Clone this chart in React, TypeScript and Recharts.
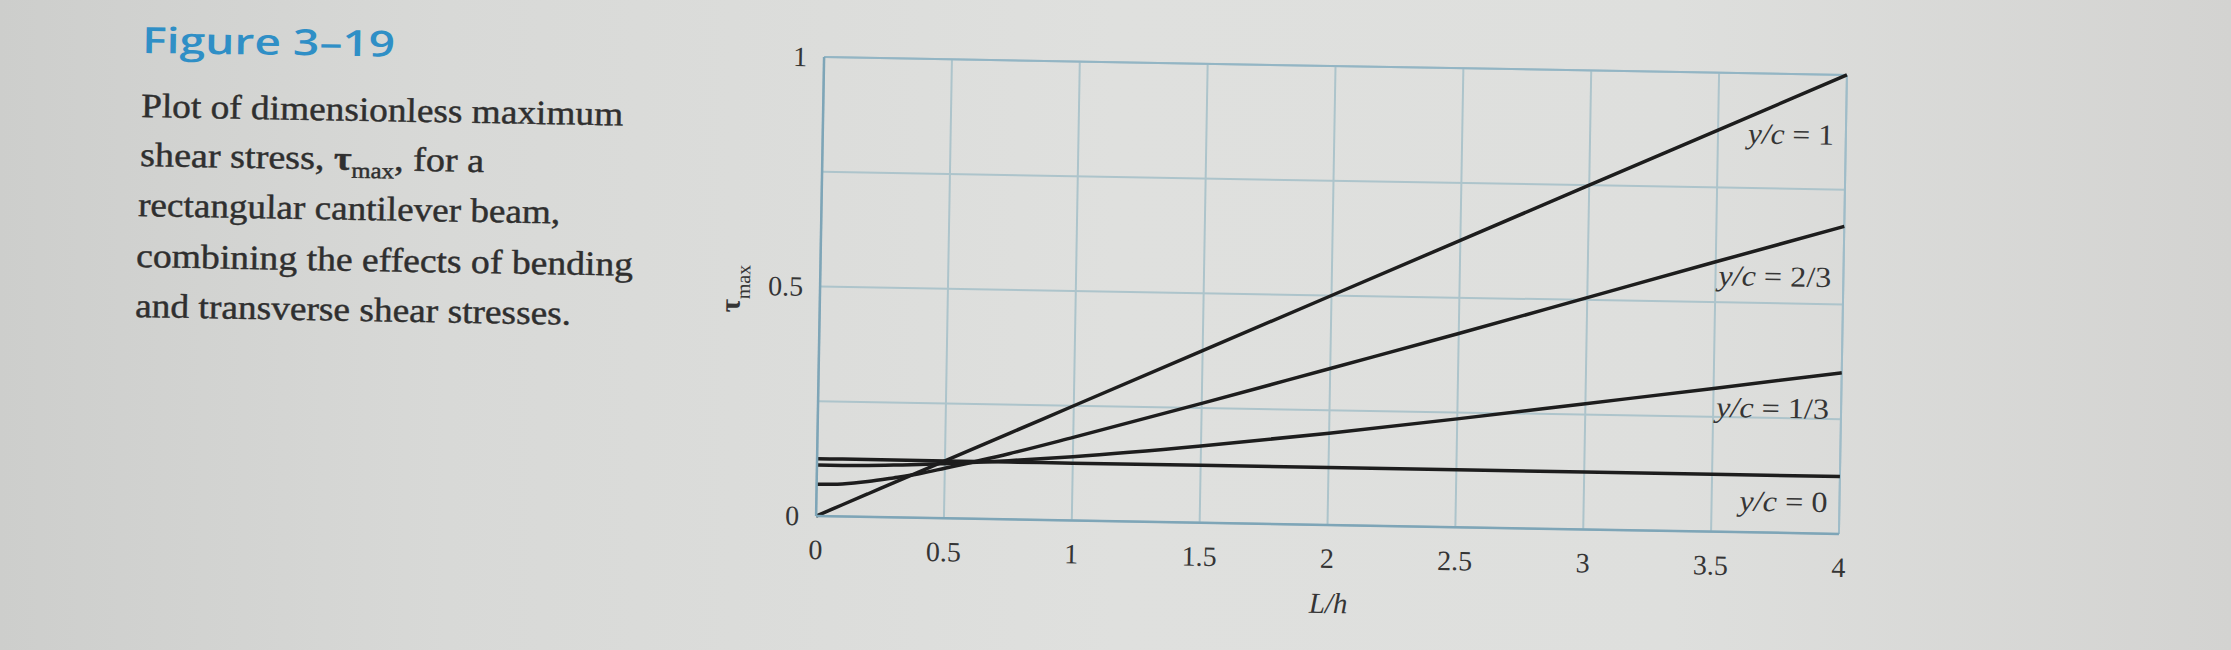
import React from 'react';
import { LineChart, Line, XAxis, YAxis, CartesianGrid, ReferenceDot, ReferenceLine } from 'recharts';

// ---- data ----
const lOverH = [0, 0.1, 0.2, 0.3, 0.4, 0.5, 0.75, 1, 1.5, 2, 2.5, 3, 3.5, 4];
const ycOne = [0, 0.025, 0.05, 0.075, 0.1, 0.125, 0.1875, 0.25, 0.375, 0.5, 0.625, 0.75, 0.875, 1.0];
const ycTwoThirds = [0.069, 0.071, 0.077, 0.086, 0.096, 0.109, 0.143, 0.181, 0.26, 0.341, 0.422, 0.505, 0.588, 0.67];
const ycOneThird = [0.111, 0.111, 0.112, 0.114, 0.116, 0.119, 0.128, 0.139, 0.167, 0.2, 0.236, 0.274, 0.312, 0.351];
const ycZero = [0.125, 0.125, 0.125, 0.125, 0.125, 0.125, 0.125, 0.125, 0.125, 0.125, 0.125, 0.125, 0.125, 0.125];

const xTicks = [0, 0.5, 1, 1.5, 2, 2.5, 3, 3.5, 4];
const xTickLabels = ['0', '0.5', '1', '1.5', '2', '2.5', '3', '3.5', '4'];
const yTicks = [0, 0.25, 0.5, 0.75, 1];
const yTickLabels = ['0', '', '0.5', '', '1'];

const seriesKeys = ['yc1', 'yc23', 'yc13', 'yc0'];
const seriesNames = ['1', '2/3', '1/3', '0'];

const titleText = 'Figure 3\u201319';
const captionLines = [
  'Plot of dimensionless maximum',
  'shear stress, \u03c4max, for a',
  'rectangular cantilever beam,',
  'combining the effects of bending',
  'and transverse shear stresses.',
];

const data = lOverH.map((x, i) => ({
  lh: x,
  yc1: ycOne[i],
  yc23: ycTwoThirds[i],
  yc13: ycOneThird[i],
  yc0: ycZero[i],
}));

// ---- layout / style ----
const PAGE_W = 2231;
const PAGE_H = 650;
const PLOT_LEFT = 820;
const PLOT_RIGHT = 1843;
const PLOT_TOP = 66;
const PLOT_BOTTOM = 525;
const Y_AXIS_W = 60;
const X_AXIS_H = 100;
const SERIF = '"Liberation Serif", "Times New Roman", serif';
const TEXT_COLOR = '#353535';
const GRID_COLOR = '#adc4cb';
const FRAME_COLOR = '#7ea5b7';
const LINE_COLOR = '#1d1d1d';

const labelPos = [0.869, 0.559, 0.272, 0.069];
const labelLen = [86, 113, 113, 88];

const captionPos = [
  { x: 141, y: 117, len: 482 },
  { x: 140, y: 166, len: 344 },
  { x: 138, y: 216, len: 422 },
  { x: 136, y: 267, len: 497 },
  { x: 135, y: 317, len: 436 },
];

const XTick = (props: any) => {
  const idx = xTicks.indexOf(props.payload.value);
  return (
    <text x={props.x} y={PLOT_BOTTOM + 43} textAnchor="middle" fontFamily={SERIF} fontSize={28} fill={TEXT_COLOR}>
      {xTickLabels[idx]}
    </text>
  );
};

const YTick = (props: any) => {
  const idx = yTicks.indexOf(props.payload.value);
  const label = yTickLabels[idx];
  if (!label) return <g />;
  return (
    <text x={PLOT_LEFT - 17} y={props.y + 9.5} textAnchor="end" fontFamily={SERIF} fontSize={28} fill={TEXT_COLOR}>
      {label}
    </text>
  );
};

const xAxisLabel = (props: any) => {
  const vb = props.viewBox || { x: PLOT_LEFT, y: PLOT_BOTTOM, width: PLOT_RIGHT - PLOT_LEFT };
  return (
    <text
      x={vb.x + vb.width / 2 + 2}
      y={PLOT_BOTTOM + 88}
      textAnchor="middle"
      fontFamily={SERIF}
      fontStyle="italic"
      fontSize={29}
      fill={TEXT_COLOR}
    >
      L/h
    </text>
  );
};

const yAxisLabel = () => {
  const cx = 740;
  const cy = 299;
  return (
    <text transform={`rotate(-90, ${cx}, ${cy})`} x={cx} y={cy} textAnchor="middle" fontFamily={SERIF} fill={TEXT_COLOR}>
      <tspan fontSize={29} fontWeight="bold">{'\u03c4'}</tspan>
      <tspan fontSize={20} dy={10}>max</tspan>
    </text>
  );
};

const makeSeriesLabel = (i: number) => (props: any) => {
  const vb = props.viewBox || { x: 0, y: 0 };
  return (
    <text
      x={vb.x - 12}
      y={vb.y + 10}
      textAnchor="end"
      fontFamily={SERIF}
      fontSize={29}
      fill={TEXT_COLOR}
      textLength={labelLen[i]}
      lengthAdjust="spacingAndGlyphs"
    >
      <tspan fontStyle="italic">y/c</tspan>
      <tspan>{` = ${seriesNames[i]}`}</tspan>
    </text>
  );
};

const Caption = () => (
  <svg width={PAGE_W} height={PAGE_H} style={{ position: 'absolute', left: 0, top: 0 }}>
    <text
      x={142}
      y={53}
      transform="rotate(0.8, 142, 53)"
      fontFamily='"Open Sans", "Noto Sans", sans-serif'
      fontWeight={600}
      fontSize={36}
      fill="#2f8fc6"
      textLength={253}
      lengthAdjust="spacingAndGlyphs"
    >
      {titleText}
    </text>
    {captionLines.map((line, i) => {
      const p = captionPos[i];
      const common = {
        key: i,
        x: p.x,
        y: p.y,
        transform: `rotate(1, ${p.x}, ${p.y})`,
        fontFamily: SERIF,
        fontSize: 34,
        fill: '#2f2f2f',
        stroke: '#2f2f2f',
        strokeWidth: 0.45,
        textLength: p.len,
        lengthAdjust: 'spacingAndGlyphs',
      } as any;
      if (line.includes('\u03c4max')) {
        const [before, after] = line.split('\u03c4max');
        return (
          <text {...common}>
            <tspan>{before}</tspan>
            <tspan fontWeight="bold">{'\u03c4'}</tspan>
            <tspan fontSize={22} dy={8}>max</tspan>
            <tspan dy={-8}>{after}</tspan>
          </text>
        );
      }
      return <text {...common}>{line}</text>;
    })}
  </svg>
);

export default function App() {
  return (
    <div
      style={{
        position: 'absolute',
        left: 0,
        top: 0,
        width: PAGE_W,
        height: PAGE_H,
        overflow: 'hidden',
        background: 'linear-gradient(90deg, #cdcecc 0%, #d8d9d7 20%, #dfe0de 50%, #dedfdd 75%, #d3d3d1 100%)',
      }}
    >
      <Caption />
      <div
        style={{
          position: 'absolute',
          left: 0,
          top: 0,
          width: PAGE_W,
          height: PAGE_H,
          transform: 'rotate(1deg)',
          transformOrigin: '1332px 296px',
        }}
      >
        <LineChart
          width={PAGE_W}
          height={PAGE_H}
          data={data}
          margin={{
            top: PLOT_TOP,
            right: PAGE_W - PLOT_RIGHT,
            bottom: PAGE_H - PLOT_BOTTOM - X_AXIS_H,
            left: PLOT_LEFT - Y_AXIS_W,
          }}
        >
          <CartesianGrid stroke={GRID_COLOR} strokeWidth={2} />
          <XAxis
            dataKey="lh"
            type="number"
            domain={[0, 4]}
            ticks={xTicks}
            interval={0}
            tickLine={false}
            axisLine={{ stroke: FRAME_COLOR, strokeWidth: 2.5 }}
            tick={XTick}
            height={X_AXIS_H}
            label={xAxisLabel}
          />
          <YAxis
            type="number"
            domain={[0, 1]}
            ticks={yTicks}
            interval={0}
            tickLine={false}
            axisLine={{ stroke: FRAME_COLOR, strokeWidth: 2.5 }}
            tick={YTick}
            width={Y_AXIS_W}
            label={yAxisLabel}
          />
          <ReferenceLine y={1} stroke="#93b5c4" strokeWidth={2} />
          <ReferenceLine x={4} stroke="#9fbcc8" strokeWidth={2} />
          {seriesKeys.map((k) => (
            <Line
              key={k}
              dataKey={k}
              type="monotone"
              stroke={LINE_COLOR}
              strokeWidth={3.5}
              dot={false}
              activeDot={false}
              isAnimationActive={false}
            />
          ))}
          {seriesKeys.map((k, i) => (
            <ReferenceDot
              key={`lbl-${k}`}
              x={4}
              y={labelPos[i]}
              r={0}
              fill="none"
              stroke="none"
              label={makeSeriesLabel(i)}
            />
          ))}
        </LineChart>
      </div>
    </div>
  );
}
